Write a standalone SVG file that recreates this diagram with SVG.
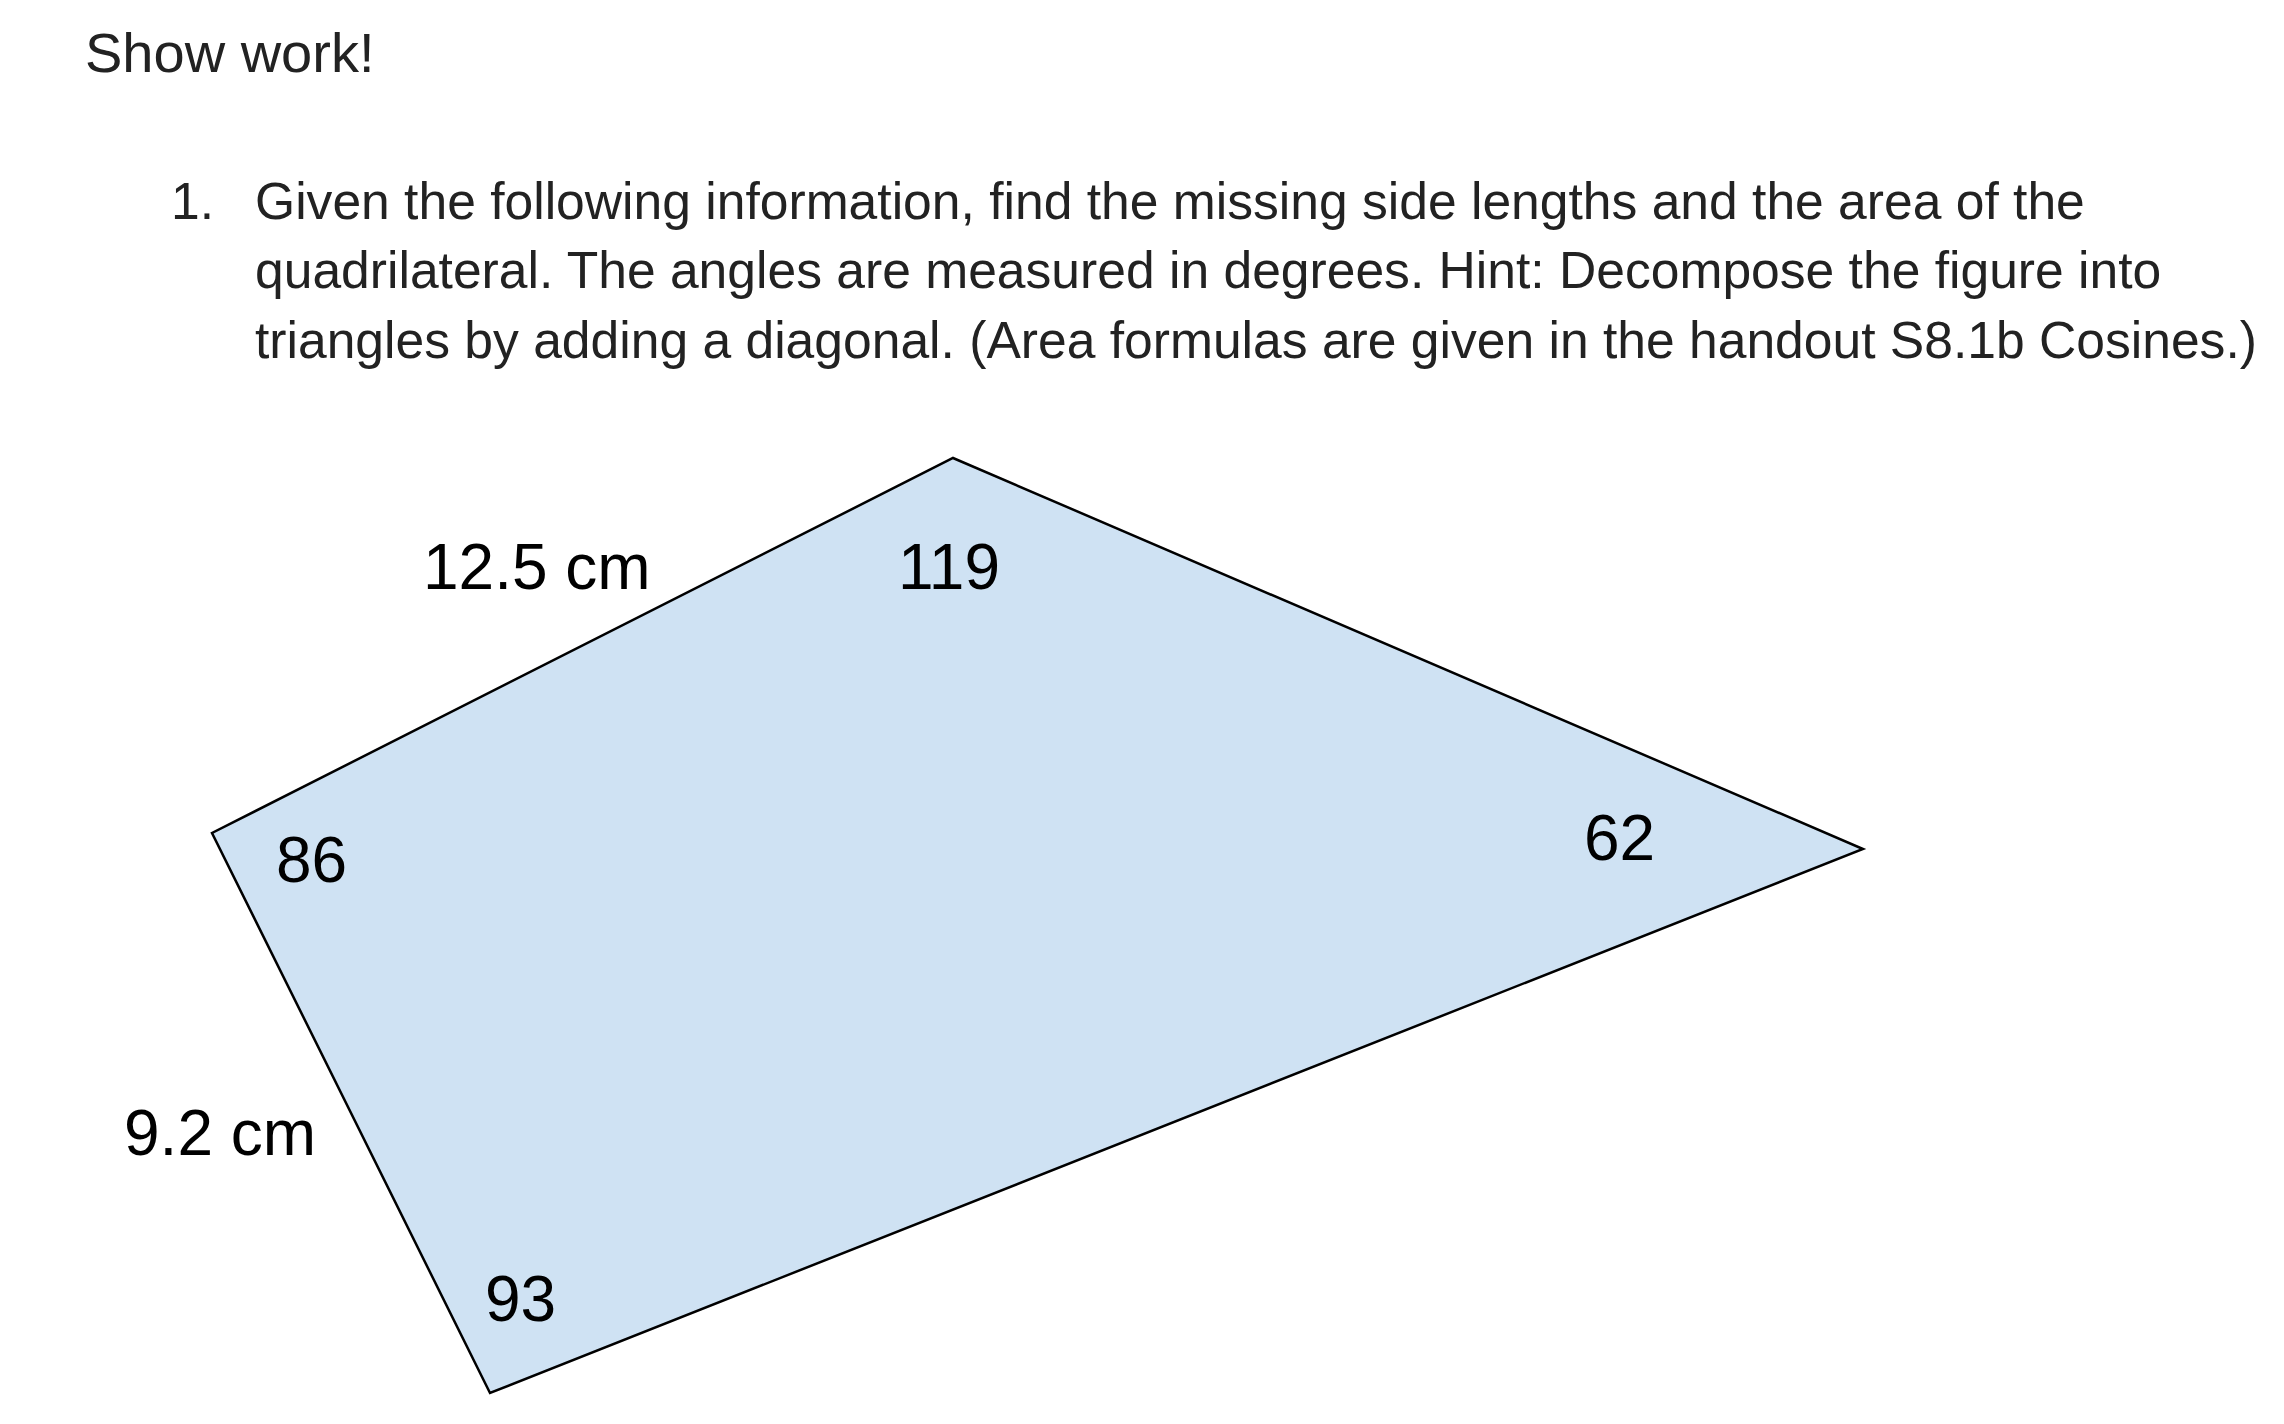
<svg xmlns="http://www.w3.org/2000/svg" width="2284" height="1424" viewBox="0 0 2284 1424">
<style>
.t{font-family:"Liberation Sans",Arial,sans-serif;font-size:51.6px;fill:#222}
.h{font-family:"Liberation Sans",Arial,sans-serif;font-size:56px;fill:#222}
.l{font-family:"Liberation Sans",Arial,sans-serif;font-size:64px;fill:#000}
.shape{fill:#cfe2f3;stroke:#000;stroke-width:2.5;stroke-linejoin:miter}
</style>
<rect width="2284" height="1424" fill="#fff"/>
<g id="heading">
<text class="h" x="85" y="72">Show work!</text>
</g>
<g id="problem">
<text class="t" x="171" y="219">1.</text>
<text class="t" x="255" y="219">Given the following information, find the missing side lengths and the area of the</text>
<text class="t" x="255" y="288">quadrilateral. The angles are measured in degrees. Hint: Decompose the figure into</text>
<text class="t" x="255" y="358">triangles by adding a diagonal. (Area formulas are given in the handout S8.1b Cosines.)</text>
</g>
<g id="quadrilateral">
<polygon class="shape" points="953,458 1863,849 490,1393 212,833"/>
</g>
<g id="labels">
<text class="l" x="423" y="589">12.5 cm</text>
<text class="l" x="898" y="589">119</text>
<text class="l" x="276" y="882">86</text>
<text class="l" x="1584" y="860">62</text>
<text class="l" x="124" y="1155">9.2 cm</text>
<text class="l" x="485" y="1321">93</text>
</g>
</svg>
